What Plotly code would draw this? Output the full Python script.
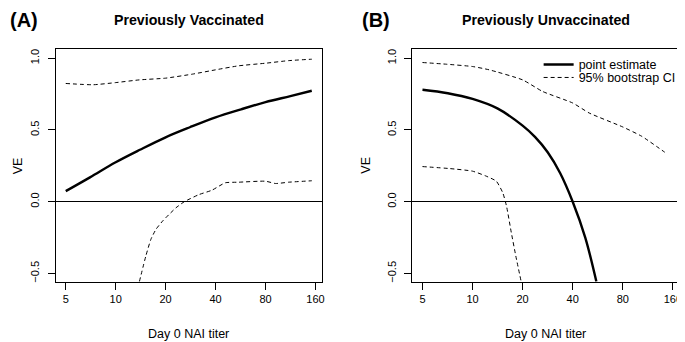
import plotly.graph_objects as go

# Panel A: previously vaccinated
titer_a_pe = [5, 7, 10, 14, 20, 28, 40, 57, 80, 113, 152]
ve_a_pe = [0.074, 0.17, 0.275, 0.362, 0.449, 0.519, 0.588, 0.644, 0.694, 0.736, 0.773]
titer_a_hi = [5, 7.3, 10, 13.9, 20, 29, 40, 55, 80, 110, 152]
ve_a_hi = [0.824, 0.815, 0.83, 0.849, 0.861, 0.889, 0.919, 0.947, 0.965, 0.983, 0.993]
titer_a_lo = [13.9, 15.2, 16.3, 17.5, 19.2, 21, 23.1, 25.9, 31.8, 38, 45.8, 55, 80, 92, 110, 152]
ve_a_lo = [-0.556, -0.378, -0.262, -0.192, -0.134, -0.088, -0.042, 0.0, 0.05, 0.08,
           0.132, 0.136, 0.143, 0.127, 0.136, 0.146]

# Panel B: previously unvaccinated
titer_b_pe = [5, 7.1, 10, 14.1, 20, 23.8, 28.3, 33.6, 40, 47.6, 55.5]
ve_b_pe = [0.78, 0.756, 0.716, 0.65, 0.53, 0.45, 0.345, 0.2, 0.0, -0.25, -0.556]
titer_b_hi = [5, 7, 10, 12.6, 20, 26.4, 40, 50.3, 80, 104, 143]
ve_b_hi = [0.97, 0.958, 0.942, 0.919, 0.849, 0.768, 0.688, 0.618, 0.521, 0.456, 0.345]
titer_b_lo = [5, 7.3, 10, 12.1, 13.9, 15.2, 16, 17.1, 18.2, 19.6]
ve_b_lo = [0.245, 0.231, 0.213, 0.178, 0.143, 0.062, -0.03, -0.215, -0.378, -0.556]

x_ticks = [5, 10, 20, 40, 80, 160]
y_ticks = [-0.5, 0.0, 0.5, 1.0]
y_ticklabels = ['\u22120.5', '0.0', '0.5', '1.0']

# the page body has an 8px margin, so the figure is shrunk and positions shifted by it
OFF = 8
W, H = 685 - OFF, 342 - OFF


def px(x):
    return (x - OFF) / W


def py(y):
    return 1 - (y - OFF) / H


FONT = 'Liberation Sans, Arial, Helvetica, sans-serif'
solid = dict(color='black', width=2.4, shape='spline', smoothing=1)
dashed = dict(color='black', width=1, dash='4px,3px', shape='spline', smoothing=0.5)

fig = go.Figure()

panels = [
    ('x', 'y', titer_a_pe, ve_a_pe, titer_a_hi, ve_a_hi, titer_a_lo, ve_a_lo, False),
    ('x2', 'y2', titer_b_pe, ve_b_pe, titer_b_hi, ve_b_hi, titer_b_lo, ve_b_lo, True),
]
for xa, ya, tp, vp, th, vh, tl, vl, legend in panels:
    fig.add_trace(go.Scatter(x=tp, y=vp, mode='lines', line=solid, xaxis=xa, yaxis=ya,
                             name='point estimate', showlegend=legend, legend='legend'))
    fig.add_trace(go.Scatter(x=th, y=vh, mode='lines', line=dashed, xaxis=xa, yaxis=ya,
                             name='95% bootstrap CI', showlegend=legend, legend='legend2'))
    fig.add_trace(go.Scatter(x=tl, y=vl, mode='lines', line=dashed, xaxis=xa, yaxis=ya,
                             showlegend=False))

xcommon = dict(type='log', range=[0.639, 2.243], tickvals=x_ticks, ticktext=[str(t) for t in x_ticks],
               ticks='outside', ticklen=7, tickcolor='black', showline=True, mirror=True,
               linecolor='black', linewidth=1, showgrid=False, zeroline=False,
               tickfont=dict(size=11, color='black'))
ycommon = dict(range=[-0.557, 1.065], tickvals=y_ticks, ticktext=y_ticklabels, tickangle=-90,
               ticks='outside', ticklen=7, tickcolor='black', showline=True, mirror=True,
               linecolor='black', linewidth=1, showgrid=False, zeroline=True,
               zerolinecolor='black', zerolinewidth=1, ticklabelstandoff=4,
               tickfont=dict(size=11, color='black'), domain=[py(282.5), py(49)])

dom_a = [px(56), px(323.3)]
dom_b = [px(414.3), px(682.3)]

leg = dict(xanchor='left', yanchor='top', bgcolor='rgba(0,0,0,0)',
           font=dict(size=12.5), itemwidth=30, borderwidth=0)

fig.update_layout(
    width=W, height=H,
    margin=dict(l=0, r=0, t=0, b=0),
    paper_bgcolor='white', plot_bgcolor='white',
    font=dict(family=FONT, color='black'),
    xaxis=dict(xcommon, domain=dom_a, anchor='y'),
    yaxis=dict(ycommon, anchor='x'),
    xaxis2=dict(xcommon, domain=dom_b, anchor='y2'),
    yaxis2=dict(ycommon, anchor='x2'),
    legend=dict(leg, x=px(541), y=py(50)),
    legend2=dict(leg, x=px(541), y=py(63)),
    showlegend=True,
)

# (x of panel tag, x of VE title) per panel; kept inside the drawable area
ann = []
for dom, tag, title, tag_x, ve_x in [(dom_a, '(A)', 'Previously Vaccinated', 8, 18),
                                     (dom_b, '(B)', 'Previously Unvaccinated', 362, 368)]:
    cx = (dom[0] + dom[1]) / 2
    ann.append(dict(text='<b>' + title + '</b>', x=cx, y=py(20), xref='paper', yref='paper',
                    showarrow=False, font=dict(size=14.2), xanchor='center', yanchor='middle'))
    ann.append(dict(text='<b>' + tag + '</b>', x=px(tag_x), y=py(20.5), xref='paper', yref='paper',
                    showarrow=False, font=dict(size=20), xanchor='left', yanchor='middle'))
    ann.append(dict(text='Day 0 NAI titer', x=cx, y=py(335), xref='paper', yref='paper',
                    showarrow=False, font=dict(size=12.5), xanchor='center', yanchor='middle'))
    ann.append(dict(text='VE', x=px(ve_x), y=py(165.75), xref='paper', yref='paper',
                    showarrow=False, font=dict(size=12.5), textangle=-90,
                    xanchor='center', yanchor='middle'))
fig.update_layout(annotations=ann)

fig.write_html('out.html')
